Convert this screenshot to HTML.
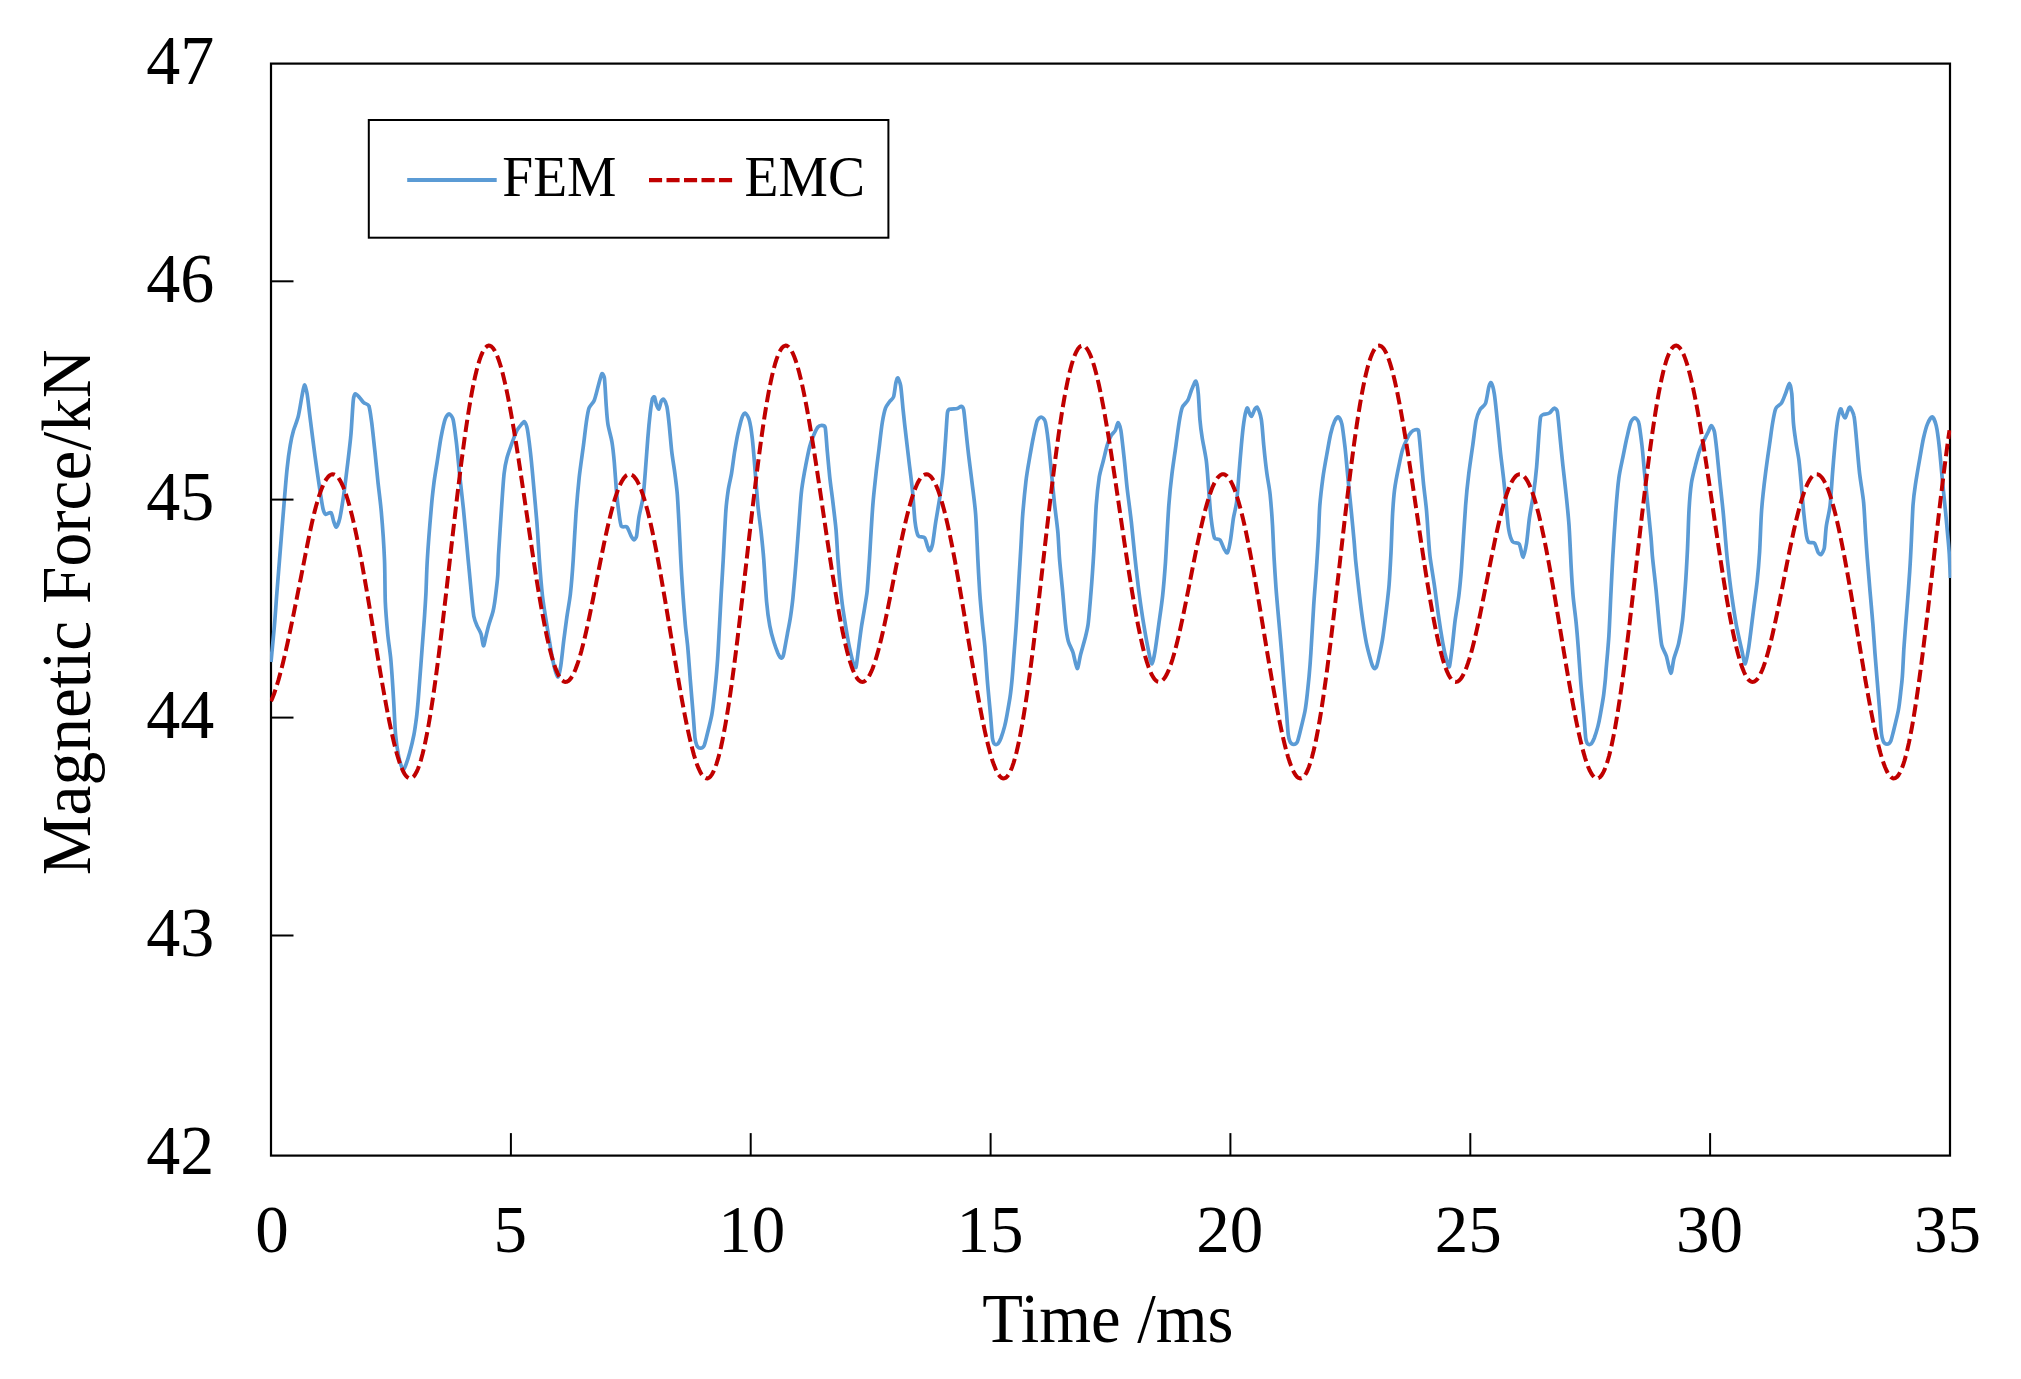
<!DOCTYPE html>
<html lang="en"><head><meta charset="utf-8"><title>Magnetic Force vs Time</title>
<style>html,body{margin:0;padding:0;background:#fff}body{width:2021px;height:1379px;overflow:hidden}</style>
</head><body>
<svg width="2021" height="1379" viewBox="0 0 2021 1379" style="display:block">
<rect x="0" y="0" width="2021" height="1379" fill="#fff"/>
<defs><clipPath id="plot"><rect x="269.9" y="63.6" width="1681.3" height="1092.0"/></clipPath></defs>
<rect x="271.0" y="63.6" width="1679.0" height="1092.0" fill="none" stroke="#000" stroke-width="2.2"/>
<g clip-path="url(#plot)" fill="none" stroke-linejoin="round" stroke-linecap="butt">
<path d="M271.0,662.0C271.5,657.2 273.6,634.9 274.4,625.8C275.2,616.7 276.1,602.7 276.8,593.9C277.5,585.1 278.6,571.3 279.5,560.0C280.4,548.2 282.9,517.7 283.9,505.5C284.9,493.3 286.2,476.9 287.1,468.8C287.9,460.8 289.4,450.0 290.3,444.9C291.1,440.1 292.4,434.3 293.5,430.5C294.6,426.7 297.2,420.7 298.3,416.2C299.4,411.7 301.0,401.2 301.8,397.0C302.6,393.0 303.7,385.4 304.4,385.0C305.1,384.6 306.6,390.8 307.1,393.8C307.9,398.4 309.2,411.1 310.3,419.4C311.4,427.7 313.7,446.6 315.0,456.0C316.3,465.4 318.7,482.6 319.8,489.6C320.8,496.0 322.2,505.4 323.0,508.7C323.5,510.7 324.6,513.8 325.7,514.3C326.8,514.8 329.9,511.7 331.0,512.7C332.1,513.7 333.0,519.6 333.7,521.5C334.4,523.4 335.5,527.4 336.3,527.0C337.1,526.6 339.1,521.3 339.8,518.3C340.8,513.9 342.7,501.8 343.8,494.3C344.9,486.8 346.8,470.5 347.8,462.4C348.8,454.3 350.3,442.0 351.0,433.7C351.7,425.4 352.7,405.5 353.3,400.2C353.5,398.0 354.5,394.1 355.4,393.8C356.3,393.5 358.6,396.6 359.7,397.8C360.8,399.0 362.5,401.5 363.7,402.6C364.9,403.7 368.1,403.9 368.8,405.8C369.9,408.5 370.9,416.9 371.7,422.5C372.5,428.6 374.0,443.2 374.9,451.3C375.8,459.4 377.2,475.1 378.1,483.2C379.0,491.3 380.5,502.3 381.3,511.9C382.2,522.1 384.0,548.0 384.5,560.0C385.0,572.0 384.9,592.1 385.3,601.9C385.7,611.7 387.0,626.1 387.7,633.8C388.4,641.5 390.0,650.8 390.8,659.4C391.6,668.2 393.0,689.9 393.6,700.0C394.2,710.1 394.9,727.3 395.6,734.8C396.2,741.9 397.8,751.8 398.6,756.0C399.2,759.4 400.7,764.2 401.3,766.0C401.8,767.4 402.8,769.9 403.4,769.8C404.0,769.7 405.0,767.0 405.6,765.5C406.5,763.2 408.7,756.3 409.8,752.2C410.9,748.1 413.0,739.4 413.9,734.8C414.8,730.2 415.9,722.0 416.5,717.4C417.1,712.8 417.8,704.8 418.2,700.0C418.6,695.2 419.1,687.8 419.6,681.7C420.1,675.0 421.4,658.3 422.0,649.8C422.6,641.3 423.9,625.4 424.4,617.9C424.9,610.4 425.5,601.6 425.9,593.9C426.3,586.2 426.6,571.3 427.3,560.0C428.0,548.2 430.6,515.7 431.5,505.5C432.1,498.1 433.2,488.9 433.9,483.2C434.6,477.5 436.1,468.6 437.1,462.4C438.1,456.2 440.0,442.6 441.1,436.9C442.2,431.2 444.0,422.5 445.1,419.4C445.9,417.2 448.0,413.8 449.1,413.8C450.2,413.8 452.5,417.2 453.1,419.4C454.1,423.1 455.4,434.5 456.3,441.7C457.2,448.9 458.6,464.7 459.5,473.6C460.4,482.5 462.2,497.2 463.4,508.7C464.6,520.2 467.1,548.6 468.2,560.0C469.3,571.3 470.7,586.4 471.4,593.9C472.1,601.4 473.1,612.0 473.8,616.3C474.4,619.6 476.0,623.5 477.0,625.8C478.0,628.1 480.1,631.1 481.0,633.8C481.9,636.5 482.8,645.4 483.4,645.8C484.0,646.2 485.1,639.9 485.8,637.0C486.5,634.1 488.0,627.7 489.0,624.3C490.0,620.9 492.1,615.1 493.0,611.5C493.9,607.9 494.8,601.9 495.4,597.1C496.0,592.2 497.4,580.4 497.8,574.8C498.2,569.2 498.1,561.6 498.5,555.0C499.0,545.8 501.0,516.4 501.7,505.5C502.4,494.9 503.4,480.0 504.1,473.6C504.7,468.2 506.0,461.5 507.0,457.7C508.0,453.9 510.0,448.5 511.3,444.9C512.6,441.3 515.5,433.3 516.9,430.5C518.1,428.1 520.7,425.3 521.7,424.1C522.5,423.2 523.9,421.2 524.6,421.8C525.3,422.4 526.8,426.4 527.3,428.9C528.1,433.0 529.6,445.2 530.5,452.9C531.4,460.6 532.9,477.3 533.7,486.4C534.5,495.5 536.0,511.7 536.8,521.5C537.6,531.3 538.7,550.1 539.4,560.0C540.1,569.9 541.4,586.5 542.4,595.5C543.4,604.5 545.9,619.3 547.2,627.4C548.5,635.5 550.9,650.5 552.0,656.2C552.9,661.0 554.4,667.7 555.2,670.5C555.9,672.7 557.4,677.5 558.1,676.9C558.8,676.3 560.2,669.5 560.8,665.7C561.6,660.6 563.1,645.4 564.0,638.6C564.9,631.8 566.3,620.7 567.2,614.7C568.1,608.7 569.6,600.9 570.4,593.9C571.2,586.6 572.5,570.7 573.2,560.0C573.9,549.3 575.2,524.4 576.0,513.5C576.8,502.6 578.2,487.1 579.1,478.4C580.0,469.7 582.1,455.6 583.1,448.1C584.1,440.6 585.5,427.8 586.3,422.5C587.0,417.7 587.9,411.2 589.0,408.2C590.1,405.2 593.1,403.2 594.3,400.2C595.5,397.2 597.3,389.3 598.3,385.8C599.3,382.3 601.0,375.0 601.8,373.9C602.6,372.8 604.2,376.3 604.4,377.9C605.0,382.3 605.8,400.4 606.3,406.6C606.7,412.4 607.2,419.4 607.9,424.1C608.6,428.8 611.0,436.6 611.9,441.7C612.8,446.8 613.7,455.6 614.3,462.4C614.9,469.2 616.0,486.0 616.6,492.8C617.2,499.6 618.4,509.0 619.0,513.5C619.6,517.8 620.3,524.5 621.4,526.3C622.4,527.9 625.7,525.8 627.0,527.1C628.3,528.4 630.0,534.1 631.0,535.8C631.8,537.3 633.5,539.8 634.2,539.8C634.9,539.8 636.3,537.3 636.6,535.8C637.2,532.7 638.1,521.8 639.0,516.7C639.9,511.6 642.1,503.7 643.0,497.5C643.9,491.3 644.8,478.3 645.4,470.4C646.0,462.5 647.2,446.2 647.8,438.5C648.4,430.8 649.6,418.3 650.2,413.0C650.8,408.2 651.9,400.7 652.5,398.6C652.7,397.8 654.0,396.3 654.5,397.0C655.0,397.9 655.9,403.4 656.5,405.0C657.0,406.5 658.3,409.5 658.9,409.0C659.5,408.5 660.7,402.3 661.3,401.0C661.7,400.1 663.0,398.7 663.7,399.4C664.4,400.1 666.4,404.0 666.9,406.6C667.6,410.1 668.7,419.7 669.3,425.7C669.9,431.7 671.0,444.9 671.7,451.3C672.4,457.7 674.2,467.9 674.9,473.6C675.6,479.3 676.8,488.0 677.3,494.4C677.8,500.8 678.4,512.8 678.9,521.5C679.4,530.2 680.3,550.3 680.8,560.0C681.3,569.7 682.3,585.3 682.9,593.9C683.5,602.5 684.7,617.3 685.3,624.3C685.9,631.3 687.0,639.2 687.7,646.6C688.4,654.0 689.6,670.9 690.3,680.0C691.0,689.1 692.6,707.1 693.2,714.8C693.8,722.5 694.5,733.9 695.0,738.0C695.3,740.4 696.2,743.9 696.7,745.2C697.0,746.1 698.0,747.2 698.5,747.6C699.0,748.0 700.0,748.2 700.5,748.2C701.0,748.2 702.0,748.0 702.5,747.6C703.0,747.2 703.9,746.1 704.3,745.2C704.8,743.9 705.7,740.4 706.3,738.0C707.3,733.9 710.8,720.2 711.8,714.8C712.8,709.4 713.6,702.0 714.1,697.4C714.6,692.8 715.4,685.1 715.9,680.0C716.4,674.9 717.1,666.3 717.6,659.4C718.1,652.4 718.9,636.1 719.4,627.4C719.9,618.7 720.7,602.9 721.2,593.9C721.7,584.9 722.6,571.1 723.2,560.0C723.8,548.9 725.2,519.7 725.9,510.3C726.4,503.4 727.6,494.5 728.3,489.6C729.0,484.7 730.6,478.7 731.5,473.6C732.4,468.5 733.8,456.6 734.7,451.3C735.6,446.0 736.9,438.2 737.9,433.7C738.9,429.2 740.9,420.6 741.9,417.8C742.5,416.0 744.1,412.8 745.1,413.0C746.1,413.2 748.4,417.0 749.1,419.4C750.1,422.8 751.6,432.3 752.3,438.5C753.0,444.7 754.0,456.7 754.7,465.6C755.4,474.5 757.1,496.8 757.9,505.5C758.7,514.0 760.2,523.7 761.0,531.0C761.8,538.3 763.1,550.5 763.8,560.0C764.5,569.5 765.8,593.1 766.6,601.9C767.3,609.9 768.8,620.5 769.8,625.8C770.8,631.1 772.7,638.2 773.8,641.8C774.9,645.4 777.0,651.0 777.8,653.0C778.4,654.4 779.4,656.3 779.9,657.0C780.3,657.5 781.1,658.2 781.5,658.1C781.9,658.0 782.7,657.3 783.0,656.6C783.4,655.7 783.9,653.1 784.2,651.4C784.8,648.4 786.5,638.5 787.4,633.8C788.3,629.1 789.9,621.2 790.6,616.3C791.3,611.4 792.4,603.5 793.0,597.1C793.7,589.6 795.4,570.5 796.2,560.0C797.0,549.5 798.6,527.7 799.3,518.3C800.0,508.9 800.8,496.6 801.7,489.6C802.6,482.6 804.6,471.3 805.7,465.6C806.8,459.9 808.6,450.5 809.7,446.5C810.7,442.7 812.6,437.9 813.7,435.3C814.8,432.7 816.6,428.6 817.7,427.3C818.6,426.2 820.7,425.4 821.7,425.4C822.7,425.4 824.9,426.0 825.2,427.3C825.9,430.8 826.7,444.7 827.3,451.3C827.9,457.9 829.0,470.0 829.7,476.8C830.4,483.6 832.1,495.3 832.9,502.3C833.7,509.3 835.3,521.8 836.0,529.5C836.7,537.2 837.3,550.8 838.0,560.0C838.7,569.2 840.6,589.9 841.6,598.7C842.6,607.5 844.5,619.2 845.6,625.8C846.7,632.4 848.5,643.1 849.6,648.2C850.7,653.3 852.7,661.6 853.6,664.1C854.0,665.4 855.6,668.6 856.0,667.3C856.6,665.4 857.7,655.3 858.4,649.8C859.1,644.3 860.7,631.5 861.6,625.8C862.5,620.1 864.1,611.4 864.8,606.7C865.5,602.0 866.7,596.1 867.2,590.7C867.8,584.5 868.7,570.2 869.4,560.0C870.1,548.6 871.9,517.0 872.8,505.5C873.6,494.8 875.2,481.3 876.0,473.6C876.8,465.9 878.3,454.9 879.1,448.1C879.9,441.3 881.4,427.8 882.3,422.5C883.1,417.7 884.5,411.0 885.5,408.2C886.3,405.8 888.4,403.3 889.5,401.8C890.6,400.3 892.8,399.0 893.5,397.0C894.4,394.5 895.3,385.2 895.9,382.7C896.3,381.0 897.2,377.5 897.8,377.9C898.4,378.3 900.2,383.0 900.7,385.8C901.4,390.1 902.4,402.8 903.1,409.8C903.8,416.8 905.4,431.1 906.3,438.5C907.2,445.9 908.6,458.4 909.5,465.6C910.4,472.8 912.0,485.3 912.7,492.8C913.4,500.3 914.3,515.8 915.0,521.5C915.6,526.3 916.9,533.6 918.2,535.8C919.3,537.7 923.3,536.3 924.6,537.8C925.9,539.3 927.1,545.3 927.8,547.0C928.3,548.3 929.2,551.1 929.8,550.7C930.4,550.3 932.1,546.2 932.6,543.8C933.4,539.9 934.8,527.7 935.8,521.5C936.8,515.3 938.8,503.9 939.8,497.5C940.8,491.1 942.3,481.0 943.0,473.6C943.7,466.2 944.8,449.8 945.4,441.7C946.0,433.6 946.9,417.3 947.4,413.0C947.6,411.6 948.1,409.9 949.4,409.3C950.7,408.7 955.7,408.9 957.3,408.5C958.8,408.1 960.4,406.1 961.3,406.3C962.2,406.5 963.4,408.4 963.7,409.8C964.3,413.2 965.4,425.3 966.1,432.1C966.8,438.9 968.4,453.6 969.3,460.8C970.2,468.0 971.6,479.2 972.5,486.4C973.4,493.6 975.0,505.5 975.7,515.1C976.4,524.7 977.3,548.0 977.8,558.3C978.3,568.6 979.1,583.4 979.7,592.2C980.3,601.0 981.8,617.0 982.5,624.3C983.2,631.6 984.3,639.5 984.9,646.9C985.5,654.3 986.6,670.9 987.3,680.0C988.0,689.1 989.8,707.1 990.5,714.8C991.2,722.5 992.0,734.2 992.4,738.0C992.6,739.8 993.4,742.3 993.8,743.2C994.0,743.8 994.8,744.2 995.2,744.4C995.6,744.6 996.4,744.6 996.8,744.4C997.2,744.2 998.0,743.8 998.4,743.2C999.0,742.3 1000.3,739.8 1001.0,738.0C1001.8,735.8 1003.8,729.5 1004.6,726.4C1005.4,723.3 1006.3,718.7 1007.0,714.8C1007.7,710.9 1009.3,702.0 1010.0,697.4C1010.7,692.8 1011.5,685.2 1012.0,680.0C1012.5,674.8 1013.2,665.5 1013.7,658.2C1014.3,650.3 1015.8,631.8 1016.5,620.5C1017.2,609.2 1018.7,583.5 1019.3,573.4C1019.9,563.9 1020.5,553.0 1021.0,545.0C1021.5,537.0 1022.1,522.0 1022.8,513.5C1023.5,505.0 1025.1,488.6 1025.9,481.6C1026.7,474.6 1028.1,466.5 1029.1,460.8C1030.1,455.1 1032.0,443.8 1033.1,438.5C1034.2,433.2 1036.0,423.9 1037.1,421.0C1037.8,419.2 1040.0,417.0 1041.1,417.0C1042.2,417.0 1044.6,419.2 1045.1,421.0C1046.1,424.3 1047.5,434.8 1048.3,441.7C1049.2,448.7 1050.6,465.1 1051.5,473.6C1052.4,482.1 1053.8,497.6 1054.7,505.5C1055.6,513.4 1057.3,525.6 1057.9,532.6C1058.5,539.6 1058.9,550.4 1059.5,558.3C1060.1,566.2 1061.9,583.4 1062.7,592.2C1063.5,601.0 1064.8,617.8 1065.5,624.3C1066.1,630.0 1067.3,637.4 1068.3,641.2C1069.3,645.0 1071.8,648.8 1073.0,652.5C1074.2,656.2 1076.2,668.3 1077.2,668.6C1078.2,668.9 1079.5,658.5 1080.6,654.4C1081.7,650.3 1084.3,641.5 1085.3,637.5C1086.3,633.5 1087.5,628.8 1088.1,624.3C1088.9,618.3 1090.2,601.8 1091.0,592.2C1091.8,582.6 1093.1,563.6 1093.8,552.0C1094.5,540.4 1095.5,515.5 1096.2,505.5C1096.9,495.9 1098.4,482.8 1099.3,476.8C1100.2,471.4 1102.2,465.1 1103.3,460.8C1104.4,456.5 1106.2,448.3 1107.3,444.9C1108.3,441.6 1110.2,437.2 1111.3,435.3C1112.3,433.5 1114.4,432.2 1115.3,430.5C1116.2,428.8 1117.3,422.5 1118.0,422.5C1118.7,422.5 1120.4,427.7 1120.9,430.5C1121.7,435.2 1123.2,449.8 1124.1,457.7C1125.0,465.6 1126.3,481.1 1127.3,489.6C1128.3,498.1 1130.3,512.6 1131.3,521.5C1132.3,530.4 1133.8,546.6 1134.8,556.0C1135.8,565.4 1137.8,583.1 1139.0,592.2C1140.2,601.3 1142.4,616.5 1143.7,624.3C1145.0,632.1 1147.4,645.4 1148.5,650.7C1149.4,655.1 1151.0,663.9 1151.9,663.9C1152.8,663.9 1154.3,655.2 1155.1,650.7C1156.0,645.4 1157.8,631.6 1158.8,624.3C1159.8,617.0 1161.7,604.3 1162.6,596.0C1163.5,587.7 1164.7,573.3 1165.5,562.0C1166.3,549.9 1167.9,517.3 1168.8,505.5C1169.6,494.8 1171.0,481.7 1172.0,473.6C1173.0,465.5 1175.1,451.7 1176.0,444.9C1176.9,438.1 1178.3,427.5 1179.1,422.5C1179.9,417.5 1181.1,410.4 1182.3,407.4C1183.4,404.6 1186.6,402.7 1187.9,400.2C1189.2,397.7 1190.8,391.5 1191.9,389.0C1193.0,386.5 1195.0,380.5 1195.9,381.1C1196.8,381.7 1197.9,389.5 1198.3,393.8C1198.8,398.9 1199.4,413.4 1199.9,419.4C1200.4,425.4 1201.4,433.0 1202.3,438.5C1203.2,444.0 1205.4,454.0 1206.3,460.8C1207.2,467.6 1208.1,481.9 1208.7,489.6C1209.3,497.3 1210.3,511.8 1211.1,518.3C1211.9,524.8 1213.3,535.1 1214.5,538.0C1215.2,539.8 1218.7,538.5 1220.0,540.0C1221.3,541.5 1223.1,547.2 1224.1,548.9C1225.0,550.3 1226.6,553.8 1227.5,552.6C1228.4,551.4 1229.8,544.3 1230.5,540.0C1231.3,535.4 1232.6,523.3 1233.4,518.3C1234.2,513.3 1235.9,507.7 1236.6,502.3C1237.3,496.3 1238.4,481.3 1239.0,473.6C1239.6,465.9 1240.8,451.7 1241.4,444.9C1242.0,438.1 1243.1,427.4 1243.8,422.5C1244.5,417.7 1246.3,409.5 1247.0,408.2C1247.7,406.9 1248.8,411.9 1249.4,413.0C1250.0,414.1 1251.0,416.7 1251.7,416.2C1252.4,415.7 1254.2,410.2 1254.9,409.0C1255.4,408.2 1256.8,406.6 1257.3,407.4C1258.2,408.8 1260.6,415.2 1261.3,419.4C1262.2,424.4 1263.0,437.7 1263.7,444.9C1264.4,452.1 1266.0,467.0 1266.9,473.6C1267.8,480.2 1269.4,487.5 1270.1,494.4C1270.8,501.3 1272.0,516.5 1272.5,525.0C1273.0,533.5 1273.6,550.1 1274.1,558.3C1274.6,566.5 1275.3,578.3 1275.9,586.6C1276.5,594.9 1278.0,611.7 1278.8,620.5C1279.6,629.3 1281.0,645.1 1281.6,652.5C1282.2,659.9 1282.9,668.4 1283.5,676.2C1284.1,684.0 1285.8,703.3 1286.4,711.0C1287.0,718.7 1287.7,730.1 1288.2,734.2C1288.5,736.6 1289.4,740.1 1289.9,741.4C1290.2,742.3 1291.2,743.4 1291.7,743.8C1292.2,744.2 1293.2,744.4 1293.7,744.4C1294.2,744.4 1295.2,744.2 1295.7,743.8C1296.2,743.4 1297.1,742.3 1297.5,741.4C1298.0,740.1 1298.9,736.6 1299.5,734.2C1300.5,730.1 1304.0,716.4 1305.0,711.0C1306.0,705.6 1306.8,698.2 1307.3,693.6C1307.8,689.0 1308.6,681.7 1309.1,676.2C1309.6,670.7 1310.4,660.4 1310.9,652.5C1311.5,643.1 1313.0,616.7 1313.7,605.4C1314.4,594.1 1315.9,577.1 1316.5,567.7C1317.1,558.3 1318.1,543.3 1318.5,535.0C1318.9,526.7 1319.2,513.0 1319.8,505.5C1320.4,498.0 1321.9,485.2 1322.8,478.4C1323.7,471.6 1325.7,460.5 1326.8,454.5C1327.9,448.5 1329.6,438.2 1330.7,433.7C1331.7,429.4 1333.7,423.2 1334.7,421.0C1335.5,419.4 1337.4,416.6 1338.4,417.0C1339.4,417.4 1341.3,421.5 1341.9,424.1C1342.8,428.2 1344.2,440.4 1345.1,448.1C1346.0,455.8 1347.4,472.9 1348.3,481.6C1349.2,490.3 1350.7,505.7 1351.5,513.5C1352.3,521.3 1353.4,533.5 1354.0,540.0C1354.6,546.5 1355.1,555.3 1355.8,562.0C1356.5,568.7 1358.0,582.5 1358.9,590.3C1359.8,598.1 1361.7,613.5 1362.7,620.5C1363.7,627.5 1365.3,637.6 1366.4,643.1C1367.5,648.6 1370.3,658.8 1371.2,662.0C1371.7,663.8 1372.7,666.3 1373.2,667.2C1373.6,667.8 1374.4,668.7 1374.9,668.6C1375.4,668.5 1376.3,667.4 1376.6,666.6C1377.1,665.2 1378.1,661.0 1378.7,658.2C1379.5,654.6 1381.5,645.7 1382.5,639.4C1383.5,633.1 1385.3,618.4 1386.2,611.1C1387.1,603.8 1388.5,592.5 1389.1,584.7C1389.7,576.9 1390.5,562.1 1391.0,552.6C1391.5,543.1 1392.1,521.9 1392.6,513.5C1393.1,505.5 1393.8,495.8 1394.6,489.6C1395.4,483.4 1397.5,472.5 1398.6,467.2C1399.7,461.9 1401.3,453.5 1402.5,449.7C1403.7,445.9 1406.1,440.8 1407.3,438.5C1408.4,436.2 1410.2,433.3 1411.3,432.1C1412.3,430.9 1414.3,429.9 1415.3,429.7C1416.3,429.5 1418.3,429.4 1418.5,430.5C1419.2,433.8 1420.3,447.7 1420.9,454.5C1421.5,461.3 1422.6,474.2 1423.3,481.6C1424.0,489.0 1425.8,502.5 1426.5,510.3C1427.2,518.1 1428.1,533.6 1428.6,540.0C1429.1,546.0 1429.4,552.0 1430.2,558.0C1431.0,564.0 1433.2,577.4 1434.3,584.7C1435.4,592.0 1437.0,605.2 1438.1,613.0C1439.2,620.8 1441.7,636.8 1442.8,643.1C1443.8,648.8 1445.7,657.0 1446.6,660.1C1447.2,662.4 1448.7,668.5 1449.4,666.7C1450.1,664.9 1451.4,653.1 1452.2,646.9C1453.0,640.7 1454.2,627.3 1455.1,620.5C1456.0,613.7 1457.9,603.0 1458.8,596.0C1459.7,589.0 1460.8,577.1 1461.5,567.7C1462.4,555.6 1464.6,518.0 1465.6,505.5C1466.4,494.8 1467.8,481.7 1468.8,473.6C1469.8,465.5 1471.8,451.9 1472.8,444.9C1473.8,437.9 1475.1,425.7 1476.0,421.0C1476.8,417.1 1478.6,412.1 1479.9,409.8C1481.2,407.5 1484.5,406.0 1485.5,403.4C1486.7,400.4 1488.0,390.2 1488.7,387.4C1489.2,385.7 1490.4,381.8 1491.1,382.7C1491.8,383.6 1493.7,390.0 1494.3,393.8C1495.2,399.1 1496.6,414.4 1497.5,422.5C1498.4,430.6 1499.8,446.6 1500.7,454.5C1501.6,462.4 1503.2,474.8 1503.9,481.6C1504.6,488.4 1505.7,499.1 1506.3,505.5C1506.9,511.9 1507.8,524.7 1508.7,529.5C1509.4,533.7 1511.3,539.9 1512.7,541.8C1514.0,543.7 1517.9,542.1 1519.2,544.0C1520.6,546.1 1522.2,557.4 1523.2,557.3C1524.2,557.2 1525.8,547.8 1526.6,543.0C1527.4,537.8 1528.5,524.8 1529.4,518.3C1530.3,511.8 1532.4,501.2 1533.4,494.4C1534.4,487.6 1535.9,475.3 1536.6,467.2C1537.3,459.1 1538.5,440.4 1539.0,433.7C1539.4,428.1 1540.1,419.5 1540.6,417.0C1540.8,415.9 1542.0,415.1 1543.0,414.6C1544.2,414.1 1547.9,413.9 1549.4,413.0C1550.9,412.1 1553.0,408.4 1554.1,408.2C1555.2,408.0 1557.0,409.9 1557.3,411.4C1558.0,414.8 1559.0,426.5 1559.7,433.7C1560.4,440.9 1562.0,457.5 1562.9,465.6C1563.8,473.7 1565.3,486.5 1566.1,494.4C1566.9,502.3 1568.3,515.2 1569.0,525.0C1569.7,534.8 1570.7,558.2 1571.2,567.7C1571.7,577.1 1572.5,589.0 1573.1,596.0C1573.7,603.0 1575.2,613.7 1575.9,620.5C1576.6,627.3 1577.6,639.0 1578.2,646.9C1578.8,654.8 1579.9,670.9 1580.6,680.0C1581.3,689.1 1583.1,707.1 1583.8,714.8C1584.5,722.5 1585.3,734.2 1585.7,738.0C1585.9,739.8 1586.7,742.3 1587.1,743.2C1587.3,743.8 1588.1,744.2 1588.5,744.4C1588.9,744.6 1589.7,744.6 1590.1,744.4C1590.5,744.2 1591.3,743.8 1591.7,743.2C1592.3,742.3 1593.6,739.8 1594.3,738.0C1595.1,735.8 1597.1,729.5 1597.9,726.4C1598.7,723.3 1599.6,718.7 1600.3,714.8C1601.0,710.9 1602.6,702.0 1603.3,697.4C1604.0,692.8 1604.9,683.7 1605.3,680.0C1605.7,676.5 1605.8,673.0 1606.1,669.5C1606.6,663.6 1608.3,645.4 1608.9,635.6C1609.5,625.8 1610.3,606.3 1610.8,596.0C1611.3,585.7 1612.1,569.3 1612.7,558.3C1613.3,547.3 1614.8,524.2 1615.6,513.5C1616.4,502.8 1617.8,485.8 1618.8,478.4C1619.7,471.4 1621.7,463.0 1622.8,457.7C1623.9,452.4 1625.6,443.2 1626.7,438.5C1627.8,433.8 1629.6,425.3 1630.7,422.5C1631.4,420.6 1633.6,417.8 1634.7,417.8C1635.8,417.8 1638.2,420.5 1638.7,422.5C1639.7,426.1 1641.0,437.4 1641.9,444.9C1642.8,452.4 1644.2,469.7 1645.1,478.4C1646.0,487.1 1647.5,502.4 1648.3,510.3C1649.1,518.2 1650.4,531.0 1651.0,537.4C1651.6,543.8 1651.9,551.3 1652.6,558.3C1653.3,565.4 1655.3,582.0 1656.1,590.3C1656.9,598.6 1658.2,613.2 1658.9,620.5C1659.6,627.8 1660.7,640.2 1661.7,645.0C1662.5,649.0 1665.2,652.5 1666.4,656.3C1667.6,660.1 1669.8,673.0 1670.8,673.3C1671.8,673.6 1672.9,662.2 1674.0,658.2C1675.1,654.2 1677.6,648.1 1678.7,643.1C1679.8,638.1 1681.6,628.0 1682.5,620.5C1683.4,613.0 1684.6,596.1 1685.3,586.6C1686.0,577.1 1687.0,559.1 1687.5,548.9C1688.0,538.7 1688.5,519.1 1689.0,510.3C1689.5,501.5 1690.5,489.2 1691.4,483.2C1692.3,477.2 1694.3,469.9 1695.4,465.6C1696.5,461.3 1698.1,454.7 1699.3,451.3C1700.5,447.9 1702.9,442.7 1704.1,440.1C1705.3,437.5 1707.1,434.0 1708.1,432.1C1709.1,430.2 1710.4,425.7 1711.3,425.7C1712.2,425.7 1714.0,429.8 1714.5,432.1C1715.2,435.5 1716.2,444.9 1716.9,451.3C1717.6,458.1 1719.2,474.9 1720.1,483.2C1721.0,491.5 1722.6,505.8 1723.3,513.5C1724.0,521.2 1725.1,534.4 1725.6,540.6C1726.1,546.8 1726.7,553.7 1727.4,560.2C1728.2,567.3 1730.3,585.6 1731.5,594.1C1732.7,602.6 1734.8,616.8 1736.2,624.3C1737.6,631.8 1740.7,645.4 1741.9,650.7C1742.9,655.1 1744.3,664.4 1745.2,663.9C1746.1,663.4 1747.9,652.6 1748.8,646.9C1749.9,639.6 1752.5,618.0 1753.6,609.2C1754.7,600.4 1756.4,588.5 1757.2,580.9C1758.0,573.3 1759.0,561.4 1759.6,552.0C1760.2,542.6 1760.8,520.8 1761.6,510.3C1762.4,499.8 1764.4,482.3 1765.5,473.6C1766.6,464.9 1768.5,451.6 1769.5,444.8C1770.5,438.0 1771.8,427.4 1772.7,422.5C1773.5,417.7 1774.7,410.8 1775.9,408.2C1776.9,405.9 1780.2,404.9 1781.5,403.0C1782.8,401.1 1784.4,396.4 1785.5,393.8C1786.6,391.2 1788.6,383.4 1789.4,383.4C1790.2,383.4 1791.4,390.3 1791.8,393.8C1792.3,399.0 1792.9,416.1 1793.4,422.5C1793.9,428.9 1795.1,436.6 1795.8,441.7C1796.5,446.8 1798.3,454.9 1799.0,460.8C1799.7,466.7 1800.8,479.3 1801.4,486.3C1802.0,493.3 1803.1,506.8 1803.8,513.4C1804.5,520.0 1805.8,532.1 1806.5,536.0C1806.9,538.2 1807.7,541.3 1808.8,542.3C1809.9,543.3 1813.2,541.8 1814.5,543.2C1815.8,544.6 1817.3,551.1 1818.2,552.6C1818.8,553.6 1820.3,555.1 1821.1,554.5C1821.9,553.9 1823.9,550.4 1824.3,548.0C1825.0,544.2 1825.5,531.9 1826.3,526.2C1827.1,520.5 1829.3,512.4 1830.1,505.4C1830.9,498.4 1831.9,481.6 1832.5,473.5C1833.1,465.4 1834.3,451.6 1834.9,444.8C1835.5,438.0 1836.6,427.3 1837.3,422.5C1838.0,417.9 1839.8,410.1 1840.5,409.0C1841.2,407.9 1842.3,413.3 1842.9,414.5C1843.5,415.7 1844.7,418.1 1845.3,417.7C1845.9,417.3 1847.1,412.7 1847.7,411.3C1848.3,409.9 1849.2,406.7 1850.0,407.3C1850.8,407.9 1853.4,412.9 1854.0,416.1C1854.9,420.3 1855.7,431.0 1856.4,438.5C1857.1,446.2 1858.6,465.0 1859.6,473.5C1860.6,482.0 1862.8,494.1 1863.6,502.2C1864.4,510.3 1865.1,526.6 1865.6,534.1C1866.1,541.6 1866.7,550.6 1867.3,558.3C1867.9,566.0 1869.4,583.4 1870.1,592.2C1870.8,601.0 1872.3,616.3 1872.9,624.3C1873.5,632.3 1874.4,645.6 1874.9,652.5C1875.4,659.4 1876.2,668.1 1876.8,675.9C1877.4,683.7 1879.1,703.0 1879.7,710.7C1880.3,718.4 1881.0,729.8 1881.5,733.9C1881.8,736.3 1882.7,739.8 1883.2,741.1C1883.5,742.0 1884.5,743.1 1885.0,743.5C1885.5,743.9 1886.5,744.1 1887.0,744.1C1887.5,744.1 1888.5,743.9 1889.0,743.5C1889.5,743.1 1890.4,742.0 1890.8,741.1C1891.3,739.8 1892.2,736.3 1892.8,733.9C1893.8,729.8 1897.3,716.1 1898.3,710.7C1899.3,705.3 1900.1,697.9 1900.6,693.3C1901.1,688.7 1902.0,681.7 1902.4,675.9C1902.9,669.7 1903.4,655.8 1904.0,646.9C1904.6,638.0 1906.1,619.3 1906.9,609.2C1907.7,599.1 1909.1,580.7 1909.7,571.5C1910.3,562.3 1911.0,548.8 1911.4,540.0C1911.8,531.2 1912.5,512.8 1913.0,505.4C1913.5,498.5 1914.5,490.6 1915.4,484.7C1916.3,478.8 1918.3,467.0 1919.4,460.8C1920.5,454.6 1922.3,443.4 1923.4,438.5C1924.5,433.6 1926.2,427.0 1927.4,424.1C1928.5,421.4 1931.0,416.7 1932.2,416.9C1933.4,417.1 1935.5,422.6 1936.2,425.7C1937.2,429.8 1938.6,440.6 1939.4,448.0C1940.2,455.4 1941.7,472.8 1942.5,481.5C1943.3,490.2 1945.0,506.0 1945.7,513.4C1946.4,520.8 1947.4,531.8 1947.9,537.3C1948.4,542.8 1949.0,549.1 1949.3,554.5C1949.6,559.9 1950.3,574.9 1950.4,578.0" stroke="#5b9bd5" stroke-width="3.7"/>
<path d="M271.0,701.3 L272.5,697.9 L274.0,694.0 L275.5,689.6 L277.0,684.9 L278.5,679.9 L280.0,674.4 L281.5,668.7 L283.0,662.7 L284.5,656.4 L286.0,649.9 L287.5,643.2 L289.0,636.2 L290.5,629.2 L292.0,621.9 L293.5,614.6 L295.0,607.2 L296.5,599.7 L298.0,592.2 L299.5,584.6 L301.0,577.1 L302.5,569.5 L304.0,561.8 L305.5,554.1 L307.0,546.5 L308.5,539.0 L310.0,531.8 L311.5,524.8 L313.0,518.2 L314.5,512.0 L316.0,506.3 L317.5,501.1 L319.0,496.2 L320.5,491.8 L322.0,487.9 L323.5,484.4 L325.0,481.4 L326.5,478.9 L328.0,477.0 L329.5,475.5 L331.0,474.6 L332.5,474.2 L334.0,474.4 L335.5,475.1 L337.0,476.3 L338.5,478.0 L340.0,480.3 L341.5,483.1 L343.0,486.3 L344.5,490.1 L346.0,494.3 L347.5,499.0 L349.0,504.1 L350.5,509.7 L352.0,515.6 L353.5,521.9 L355.0,528.6 L356.5,535.7 L358.0,543.0 L359.5,550.7 L361.0,558.6 L362.5,566.7 L364.0,575.1 L365.5,583.6 L367.0,592.3 L368.5,601.2 L370.0,610.1 L371.5,619.2 L373.0,628.3 L374.5,637.3 L376.0,646.4 L377.5,655.5 L379.0,664.4 L380.5,673.3 L382.0,682.0 L383.5,690.5 L385.0,698.9 L386.5,707.0 L388.0,714.8 L389.5,722.3 L391.0,729.5 L392.5,736.3 L394.0,742.7 L395.5,748.7 L397.0,754.2 L398.5,759.2 L400.0,763.7 L401.5,767.6 L403.0,771.0 L404.5,773.8 L406.0,775.9 L407.5,777.4 L409.0,778.3 L410.5,778.4 L412.0,777.9 L413.5,776.7 L415.0,774.7 L416.5,772.1 L418.0,768.7 L419.5,764.6 L421.0,759.8 L422.5,754.3 L424.0,748.1 L425.5,741.2 L427.0,733.6 L428.5,725.5 L430.0,716.7 L431.5,707.3 L433.0,697.4 L434.5,686.9 L436.0,676.0 L437.5,664.6 L439.0,652.9 L440.5,640.8 L442.0,628.3 L443.5,615.6 L445.0,602.7 L446.5,589.7 L448.0,576.5 L449.5,563.2 L451.0,550.0 L452.5,536.8 L454.0,523.7 L455.5,510.8 L457.0,498.0 L458.5,485.5 L460.0,473.4 L461.5,461.5 L463.0,450.1 L464.5,439.0 L466.0,428.5 L467.5,418.5 L469.0,409.0 L470.5,400.1 L472.0,391.7 L473.5,384.1 L475.0,377.0 L476.5,370.7 L478.0,365.1 L479.5,360.1 L481.0,355.9 L482.5,352.4 L484.0,349.6 L485.5,347.6 L487.0,346.2 L488.5,345.6 L490.0,345.8 L491.5,346.6 L493.0,348.1 L494.5,350.3 L496.0,353.2 L497.5,356.7 L499.0,360.8 L500.5,365.5 L502.0,370.8 L503.5,376.7 L505.0,383.1 L506.5,389.9 L508.0,397.2 L509.5,405.0 L511.0,413.2 L512.5,421.7 L514.0,430.5 L515.5,439.7 L517.0,449.1 L518.5,458.7 L520.0,468.6 L521.5,478.6 L523.0,488.7 L524.5,498.8 L526.0,509.1 L527.5,519.3 L529.0,529.5 L530.5,539.7 L532.0,549.7 L533.5,559.6 L535.0,569.4 L536.5,578.9 L538.0,588.2 L539.5,597.2 L541.0,605.9 L542.5,614.2 L544.0,622.2 L545.5,629.8 L547.0,637.0 L548.5,643.7 L550.0,649.9 L551.5,655.6 L553.0,660.8 L554.5,665.5 L556.0,669.6 L557.5,673.1 L559.0,676.1 L560.5,678.4 L562.0,680.2 L563.5,681.3 L565.0,681.9 L566.5,681.8 L568.0,681.2 L569.5,679.9 L571.0,678.1 L572.5,675.7 L574.0,672.8 L575.5,669.3 L577.0,665.3 L578.5,660.9 L580.0,655.9 L581.5,650.6 L583.0,644.8 L584.5,638.7 L586.0,632.3 L587.5,625.5 L589.0,618.6 L590.5,611.3 L592.0,604.0 L593.5,596.5 L595.0,588.9 L596.5,581.2 L598.0,573.6 L599.5,565.9 L601.0,558.4 L602.5,551.0 L604.0,543.7 L605.5,536.6 L607.0,529.8 L608.5,523.2 L610.0,516.9 L611.5,511.0 L613.0,505.4 L614.5,500.2 L616.0,495.5 L617.5,491.1 L619.0,487.3 L620.5,483.9 L622.0,481.0 L623.5,478.6 L625.0,476.7 L626.5,475.3 L628.0,474.5 L629.5,474.2 L631.0,474.5 L632.5,475.2 L634.0,476.5 L635.5,478.4 L637.0,480.7 L638.5,483.6 L640.0,486.9 L641.5,490.8 L643.0,495.1 L644.5,499.8 L646.0,505.0 L647.5,510.6 L649.0,516.6 L650.5,523.0 L652.0,529.8 L653.5,536.9 L655.0,544.3 L656.5,552.0 L658.0,559.9 L659.5,568.1 L661.0,576.5 L662.5,585.1 L664.0,593.8 L665.5,602.7 L667.0,611.6 L668.5,620.7 L670.0,629.8 L671.5,638.9 L673.0,647.9 L674.5,657.0 L676.0,665.9 L677.5,674.7 L679.0,683.4 L680.5,691.9 L682.0,700.2 L683.5,708.3 L685.0,716.1 L686.5,723.5 L688.0,730.6 L689.5,737.4 L691.0,743.7 L692.5,749.6 L694.0,755.1 L695.5,760.0 L697.0,764.4 L698.5,768.2 L700.0,771.5 L701.5,774.2 L703.0,776.2 L704.5,777.6 L706.0,778.3 L707.5,778.4 L709.0,777.7 L710.5,776.4 L712.0,774.3 L713.5,771.5 L715.0,768.0 L716.5,763.8 L718.0,758.9 L719.5,753.3 L721.0,747.0 L722.5,740.0 L724.0,732.3 L725.5,724.0 L727.0,715.2 L728.5,705.7 L730.0,695.7 L731.5,685.2 L733.0,674.1 L734.5,662.7 L736.0,650.9 L737.5,638.7 L739.0,626.2 L740.5,613.5 L742.0,600.6 L743.5,587.5 L745.0,574.3 L746.5,561.0 L748.0,547.8 L749.5,534.6 L751.0,521.5 L752.5,508.6 L754.0,495.9 L755.5,483.5 L757.0,471.4 L758.5,459.6 L760.0,448.2 L761.5,437.2 L763.0,426.8 L764.5,416.8 L766.0,407.4 L767.5,398.6 L769.0,390.4 L770.5,382.9 L772.0,375.9 L773.5,369.7 L775.0,364.2 L776.5,359.4 L778.0,355.2 L779.5,351.9 L781.0,349.2 L782.5,347.3 L784.0,346.1 L785.5,345.6 L787.0,345.8 L788.5,346.8 L790.0,348.4 L791.5,350.7 L793.0,353.7 L794.5,357.3 L796.0,361.5 L797.5,366.4 L799.0,371.8 L800.5,377.7 L802.0,384.2 L803.5,391.1 L805.0,398.5 L806.5,406.3 L808.0,414.5 L809.5,423.1 L811.0,432.0 L812.5,441.2 L814.0,450.7 L815.5,460.4 L817.0,470.2 L818.5,480.2 L820.0,490.4 L821.5,500.5 L823.0,510.8 L824.5,521.0 L826.0,531.2 L827.5,541.4 L829.0,551.4 L830.5,561.3 L832.0,571.0 L833.5,580.4 L835.0,589.7 L836.5,598.6 L838.0,607.3 L839.5,615.6 L841.0,623.5 L842.5,631.0 L844.0,638.1 L845.5,644.7 L847.0,650.9 L848.5,656.5 L850.0,661.6 L851.5,666.2 L853.0,670.2 L854.5,673.7 L856.0,676.5 L857.5,678.8 L859.0,680.4 L860.5,681.5 L862.0,681.9 L863.5,681.8 L865.0,681.0 L866.5,679.7 L868.0,677.8 L869.5,675.3 L871.0,672.2 L872.5,668.7 L874.0,664.6 L875.5,660.1 L877.0,655.1 L878.5,649.7 L880.0,643.8 L881.5,637.7 L883.0,631.2 L884.5,624.4 L886.0,617.4 L887.5,610.1 L889.0,602.7 L890.5,595.2 L892.0,587.6 L893.5,579.9 L895.0,572.3 L896.5,564.7 L898.0,557.1 L899.5,549.7 L901.0,542.5 L902.5,535.5 L904.0,528.7 L905.5,522.1 L907.0,515.9 L908.5,510.0 L910.0,504.5 L911.5,499.4 L913.0,494.7 L914.5,490.4 L916.0,486.7 L917.5,483.3 L919.0,480.5 L920.5,478.2 L922.0,476.4 L923.5,475.2 L925.0,474.4 L926.5,474.2 L928.0,474.5 L929.5,475.4 L931.0,476.8 L932.5,478.7 L934.0,481.2 L935.5,484.1 L937.0,487.5 L938.5,491.4 L940.0,495.8 L941.5,500.7 L943.0,505.9 L944.5,511.6 L946.0,517.7 L947.5,524.1 L949.0,530.9 L950.5,538.1 L952.0,545.5 L953.5,553.3 L955.0,561.2 L956.5,569.5 L958.0,577.9 L959.5,586.5 L961.0,595.3 L962.5,604.2 L964.0,613.1 L965.5,622.2 L967.0,631.3 L968.5,640.4 L970.0,649.4 L971.5,658.5 L973.0,667.4 L974.5,676.2 L976.0,684.9 L977.5,693.3 L979.0,701.6 L980.5,709.6 L982.0,717.3 L983.5,724.7 L985.0,731.8 L986.5,738.5 L988.0,744.7 L989.5,750.6 L991.0,755.9 L992.5,760.8 L994.0,765.1 L995.5,768.8 L997.0,772.0 L998.5,774.6 L1000.0,776.5 L1001.5,777.8 L1003.0,778.4 L1004.5,778.3 L1006.0,777.6 L1007.5,776.1 L1009.0,773.9 L1010.5,771.0 L1012.0,767.4 L1013.5,763.1 L1015.0,758.0 L1016.5,752.3 L1018.0,745.8 L1019.5,738.7 L1021.0,731.0 L1022.5,722.6 L1024.0,713.6 L1025.5,704.1 L1027.0,694.0 L1028.5,683.3 L1030.0,672.3 L1031.5,660.8 L1033.0,648.9 L1034.5,636.6 L1036.0,624.1 L1037.5,611.3 L1039.0,598.4 L1040.5,585.3 L1042.0,572.1 L1043.5,558.8 L1045.0,545.6 L1046.5,532.4 L1048.0,519.4 L1049.5,506.5 L1051.0,493.8 L1052.5,481.4 L1054.0,469.4 L1055.5,457.7 L1057.0,446.3 L1058.5,435.5 L1060.0,425.1 L1061.5,415.2 L1063.0,405.9 L1064.5,397.2 L1066.0,389.1 L1067.5,381.7 L1069.0,374.9 L1070.5,368.7 L1072.0,363.3 L1073.5,358.6 L1075.0,354.6 L1076.5,351.4 L1078.0,348.8 L1079.5,347.0 L1081.0,346.0 L1082.5,345.6 L1084.0,346.0 L1085.5,347.0 L1087.0,348.8 L1088.5,351.2 L1090.0,354.3 L1091.5,358.0 L1093.0,362.3 L1094.5,367.2 L1096.0,372.7 L1097.5,378.7 L1099.0,385.3 L1100.5,392.3 L1102.0,399.8 L1103.5,407.7 L1105.0,416.0 L1106.5,424.6 L1108.0,433.5 L1109.5,442.8 L1111.0,452.3 L1112.5,462.0 L1114.0,471.9 L1115.5,481.9 L1117.0,492.0 L1118.5,502.3 L1120.0,512.5 L1121.5,522.7 L1123.0,532.9 L1124.5,543.0 L1126.0,553.0 L1127.5,562.9 L1129.0,572.6 L1130.5,582.0 L1132.0,591.2 L1133.5,600.1 L1135.0,608.7 L1136.5,616.9 L1138.0,624.8 L1139.5,632.2 L1141.0,639.2 L1142.5,645.8 L1144.0,651.9 L1145.5,657.4 L1147.0,662.4 L1148.5,666.9 L1150.0,670.8 L1151.5,674.2 L1153.0,676.9 L1154.5,679.1 L1156.0,680.6 L1157.5,681.6 L1159.0,681.9 L1160.5,681.7 L1162.0,680.8 L1163.5,679.4 L1165.0,677.4 L1166.5,674.8 L1168.0,671.7 L1169.5,668.0 L1171.0,663.9 L1172.5,659.3 L1174.0,654.2 L1175.5,648.7 L1177.0,642.8 L1178.5,636.6 L1180.0,630.1 L1181.5,623.2 L1183.0,616.2 L1184.5,608.9 L1186.0,601.5 L1187.5,593.9 L1189.0,586.3 L1190.5,578.7 L1192.0,571.0 L1193.5,563.4 L1195.0,555.9 L1196.5,548.5 L1198.0,541.3 L1199.5,534.3 L1201.0,527.6 L1202.5,521.1 L1204.0,514.9 L1205.5,509.1 L1207.0,503.6 L1208.5,498.6 L1210.0,494.0 L1211.5,489.8 L1213.0,486.1 L1214.5,482.8 L1216.0,480.1 L1217.5,477.9 L1219.0,476.2 L1220.5,475.0 L1222.0,474.3 L1223.5,474.2 L1225.0,474.7 L1226.5,475.6 L1228.0,477.1 L1229.5,479.1 L1231.0,481.6 L1232.5,484.6 L1234.0,488.1 L1235.5,492.1 L1237.0,496.6 L1238.5,501.5 L1240.0,506.8 L1241.5,512.6 L1243.0,518.7 L1244.5,525.2 L1246.0,532.1 L1247.5,539.3 L1249.0,546.8 L1250.5,554.6 L1252.0,562.6 L1253.5,570.9 L1255.0,579.3 L1256.5,588.0 L1258.0,596.7 L1259.5,605.7 L1261.0,614.7 L1262.5,623.7 L1264.0,632.8 L1265.5,641.9 L1267.0,651.0 L1268.5,660.0 L1270.0,668.9 L1271.5,677.7 L1273.0,686.3 L1274.5,694.7 L1276.0,702.9 L1277.5,710.9 L1279.0,718.6 L1280.5,725.9 L1282.0,732.9 L1283.5,739.5 L1285.0,745.7 L1286.5,751.5 L1288.0,756.8 L1289.5,761.5 L1291.0,765.7 L1292.5,769.4 L1294.0,772.5 L1295.5,774.9 L1297.0,776.8 L1298.5,777.9 L1300.0,778.4 L1301.5,778.2 L1303.0,777.4 L1304.5,775.8 L1306.0,773.5 L1307.5,770.5 L1309.0,766.7 L1310.5,762.3 L1312.0,757.1 L1313.5,751.2 L1315.0,744.7 L1316.5,737.5 L1318.0,729.6 L1319.5,721.1 L1321.0,712.1 L1322.5,702.4 L1324.0,692.2 L1325.5,681.5 L1327.0,670.4 L1328.5,658.8 L1330.0,646.9 L1331.5,634.6 L1333.0,622.0 L1334.5,609.2 L1336.0,596.2 L1337.5,583.1 L1339.0,569.9 L1340.5,556.6 L1342.0,543.4 L1343.5,530.2 L1345.0,517.2 L1346.5,504.4 L1348.0,491.8 L1349.5,479.4 L1351.0,467.4 L1352.5,455.7 L1354.0,444.5 L1355.5,433.7 L1357.0,423.4 L1358.5,413.6 L1360.0,404.4 L1361.5,395.8 L1363.0,387.8 L1364.5,380.5 L1366.0,373.8 L1367.5,367.8 L1369.0,362.5 L1370.5,357.9 L1372.0,354.0 L1373.5,350.9 L1375.0,348.5 L1376.5,346.8 L1378.0,345.8 L1379.5,345.6 L1381.0,346.1 L1382.5,347.3 L1384.0,349.1 L1385.5,351.7 L1387.0,354.8 L1388.5,358.7 L1390.0,363.1 L1391.5,368.1 L1393.0,373.7 L1394.5,379.8 L1396.0,386.4 L1397.5,393.5 L1399.0,401.1 L1400.5,409.0 L1402.0,417.4 L1403.5,426.1 L1405.0,435.1 L1406.5,444.4 L1408.0,453.9 L1409.5,463.6 L1411.0,473.5 L1412.5,483.6 L1414.0,493.7 L1415.5,504.0 L1417.0,514.2 L1418.5,524.4 L1420.0,534.6 L1421.5,544.7 L1423.0,554.7 L1424.5,564.5 L1426.0,574.1 L1427.5,583.6 L1429.0,592.7 L1430.5,601.6 L1432.0,610.1 L1433.5,618.3 L1435.0,626.1 L1436.5,633.4 L1438.0,640.4 L1439.5,646.8 L1441.0,652.8 L1442.5,658.3 L1444.0,663.2 L1445.5,667.6 L1447.0,671.4 L1448.5,674.7 L1450.0,677.3 L1451.5,679.4 L1453.0,680.8 L1454.5,681.7 L1456.0,681.9 L1457.5,681.6 L1459.0,680.6 L1460.5,679.1 L1462.0,677.0 L1463.5,674.3 L1465.0,671.1 L1466.5,667.4 L1468.0,663.2 L1469.5,658.5 L1471.0,653.3 L1472.5,647.8 L1474.0,641.8 L1475.5,635.5 L1477.0,628.9 L1478.5,622.1 L1480.0,615.0 L1481.5,607.7 L1483.0,600.2 L1484.5,592.7 L1486.0,585.0 L1487.5,577.4 L1489.0,569.7 L1490.5,562.2 L1492.0,554.7 L1493.5,547.3 L1495.0,540.1 L1496.5,533.2 L1498.0,526.5 L1499.5,520.0 L1501.0,513.9 L1502.5,508.2 L1504.0,502.8 L1505.5,497.8 L1507.0,493.2 L1508.5,489.1 L1510.0,485.5 L1511.5,482.3 L1513.0,479.7 L1514.5,477.6 L1516.0,475.9 L1517.5,474.8 L1519.0,474.3 L1520.5,474.3 L1522.0,474.8 L1523.5,475.8 L1525.0,477.4 L1526.5,479.5 L1528.0,482.1 L1529.5,485.2 L1531.0,488.8 L1532.5,492.9 L1534.0,497.4 L1535.5,502.4 L1537.0,507.8 L1538.5,513.6 L1540.0,519.8 L1541.5,526.4 L1543.0,533.3 L1544.5,540.5 L1546.0,548.1 L1547.5,555.9 L1549.0,564.0 L1550.5,572.3 L1552.0,580.8 L1553.5,589.4 L1555.0,598.2 L1556.5,607.1 L1558.0,616.2 L1559.5,625.2 L1561.0,634.3 L1562.5,643.4 L1564.0,652.5 L1565.5,661.5 L1567.0,670.3 L1568.5,679.1 L1570.0,687.7 L1571.5,696.1 L1573.0,704.3 L1574.5,712.2 L1576.0,719.8 L1577.5,727.1 L1579.0,734.1 L1580.5,740.6 L1582.0,746.7 L1583.5,752.4 L1585.0,757.6 L1586.5,762.3 L1588.0,766.4 L1589.5,770.0 L1591.0,772.9 L1592.5,775.3 L1594.0,777.0 L1595.5,778.1 L1597.0,778.4 L1598.5,778.1 L1600.0,777.1 L1601.5,775.4 L1603.0,773.0 L1604.5,769.9 L1606.0,766.0 L1607.5,761.5 L1609.0,756.2 L1610.5,750.2 L1612.0,743.5 L1613.5,736.2 L1615.0,728.3 L1616.5,719.7 L1618.0,710.5 L1619.5,700.8 L1621.0,690.5 L1622.5,679.7 L1624.0,668.5 L1625.5,656.8 L1627.0,644.8 L1628.5,632.5 L1630.0,619.9 L1631.5,607.0 L1633.0,594.0 L1634.5,580.9 L1636.0,567.7 L1637.5,554.4 L1639.0,541.2 L1640.5,528.1 L1642.0,515.1 L1643.5,502.3 L1645.0,489.7 L1646.5,477.4 L1648.0,465.4 L1649.5,453.8 L1651.0,442.7 L1652.5,432.0 L1654.0,421.7 L1655.5,412.1 L1657.0,403.0 L1658.5,394.4 L1660.0,386.6 L1661.5,379.3 L1663.0,372.7 L1664.5,366.9 L1666.0,361.7 L1667.5,357.2 L1669.0,353.5 L1670.5,350.4 L1672.0,348.2 L1673.5,346.6 L1675.0,345.8 L1676.5,345.6 L1678.0,346.2 L1679.5,347.5 L1681.0,349.5 L1682.5,352.1 L1684.0,355.4 L1685.5,359.4 L1687.0,363.9 L1688.5,369.0 L1690.0,374.7 L1691.5,380.9 L1693.0,387.6 L1694.5,394.8 L1696.0,402.4 L1697.5,410.4 L1699.0,418.8 L1700.5,427.5 L1702.0,436.6 L1703.5,445.9 L1705.0,455.5 L1706.5,465.3 L1708.0,475.2 L1709.5,485.3 L1711.0,495.4 L1712.5,505.7 L1714.0,515.9 L1715.5,526.1 L1717.0,536.3 L1718.5,546.4 L1720.0,556.3 L1721.5,566.1 L1723.0,575.7 L1724.5,585.1 L1726.0,594.2 L1727.5,603.0 L1729.0,611.5 L1730.5,619.6 L1732.0,627.3 L1733.5,634.6 L1735.0,641.5 L1736.5,647.9 L1738.0,653.8 L1739.5,659.1 L1741.0,664.0 L1742.5,668.3 L1744.0,672.0 L1745.5,675.2 L1747.0,677.7 L1748.5,679.7 L1750.0,681.0 L1751.5,681.8 L1753.0,681.9 L1754.5,681.5 L1756.0,680.4 L1757.5,678.8 L1759.0,676.6 L1760.5,673.8 L1762.0,670.5 L1763.5,666.7 L1765.0,662.4 L1766.5,657.6 L1768.0,652.4 L1769.5,646.8 L1771.0,640.8 L1772.5,634.5 L1774.0,627.8 L1775.5,620.9 L1777.0,613.8 L1778.5,606.4 L1780.0,599.0 L1781.5,591.4 L1783.0,583.8 L1784.5,576.1 L1786.0,568.5 L1787.5,560.9 L1789.0,553.4 L1790.5,546.1 L1792.0,539.0 L1793.5,532.0 L1795.0,525.4 L1796.5,519.0 L1798.0,512.9 L1799.5,507.2 L1801.0,501.9 L1802.5,497.0 L1804.0,492.5 L1805.5,488.5 L1807.0,484.9 L1808.5,481.9 L1810.0,479.3 L1811.5,477.2 L1813.0,475.7 L1814.5,474.7 L1816.0,474.2 L1817.5,474.3 L1819.0,474.9 L1820.5,476.0 L1822.0,477.7 L1823.5,479.9 L1825.0,482.6 L1826.5,485.8 L1828.0,489.4 L1829.5,493.6 L1831.0,498.2 L1832.5,503.2 L1834.0,508.7 L1835.5,514.6 L1837.0,520.9 L1838.5,527.5 L1840.0,534.5 L1841.5,541.8 L1843.0,549.4 L1844.5,557.2 L1846.0,565.3 L1847.5,573.7 L1849.0,582.2 L1850.5,590.9 L1852.0,599.7 L1853.5,608.6 L1855.0,617.7 L1856.5,626.7 L1858.0,635.8 L1859.5,644.9 L1861.0,654.0 L1862.5,662.9 L1864.0,671.8 L1865.5,680.6 L1867.0,689.1 L1868.5,697.5 L1870.0,705.6 L1871.5,713.5 L1873.0,721.1 L1874.5,728.3 L1876.0,735.2 L1877.5,741.7 L1879.0,747.7 L1880.5,753.3 L1882.0,758.4 L1883.5,763.0 L1885.0,767.0 L1886.5,770.5 L1888.0,773.4 L1889.5,775.6 L1891.0,777.2 L1892.5,778.2 L1894.0,778.4 L1895.5,778.0 L1897.0,776.9 L1898.5,775.1 L1900.0,772.5 L1901.5,769.3 L1903.0,765.3 L1904.5,760.6 L1906.0,755.2 L1907.5,749.1 L1909.0,742.4 L1910.5,734.9 L1912.0,726.9 L1913.5,718.2 L1915.0,708.9 L1916.5,699.1 L1918.0,688.7 L1919.5,677.9 L1921.0,666.6 L1922.5,654.9 L1924.0,642.8 L1925.5,630.4 L1927.0,617.8 L1928.5,604.9 L1930.0,591.8 L1931.5,578.7 L1933.0,565.4 L1934.5,552.2 L1936.0,539.0 L1937.5,525.9 L1939.0,512.9 L1940.5,500.1 L1942.0,487.6 L1943.5,475.4 L1945.0,463.5 L1946.5,451.9 L1948.0,440.8 L1949.5,430.2" stroke="#c00000" stroke-width="4.0" stroke-dasharray="12.5 5"/>
</g>
<g stroke="#000" stroke-width="2">
<line x1="271.0" y1="281.3" x2="293.5" y2="281.3"/>
<line x1="271.0" y1="499.6" x2="293.5" y2="499.6"/>
<line x1="271.0" y1="717.6" x2="293.5" y2="717.6"/>
<line x1="271.0" y1="935.5" x2="293.5" y2="935.5"/>
<line x1="510.9" y1="1155.6" x2="510.9" y2="1133.1"/>
<line x1="750.7" y1="1155.6" x2="750.7" y2="1133.1"/>
<line x1="990.6" y1="1155.6" x2="990.6" y2="1133.1"/>
<line x1="1230.4" y1="1155.6" x2="1230.4" y2="1133.1"/>
<line x1="1470.3" y1="1155.6" x2="1470.3" y2="1133.1"/>
<line x1="1710.1" y1="1155.6" x2="1710.1" y2="1133.1"/>
</g>
<g font-family="'Liberation Serif', 'Times New Roman', serif" font-size="66.67" fill="#000">
<text transform="translate(214.3,83.8) scale(1,1.02)" text-anchor="end" font-size="68">47</text>
<text transform="translate(214.3,301.8) scale(1,1.02)" text-anchor="end" font-size="68">46</text>
<text transform="translate(214.3,519.8) scale(1,1.02)" text-anchor="end" font-size="68">45</text>
<text transform="translate(214.3,737.8) scale(1,1.02)" text-anchor="end" font-size="68">44</text>
<text transform="translate(214.3,955.8) scale(1,1.02)" text-anchor="end" font-size="68">43</text>
<text transform="translate(214.3,1173.8) scale(1,1.02)" text-anchor="end" font-size="68">42</text>
<text x="272.0" y="1252" text-anchor="middle" font-size="67">0</text>
<text x="510.3" y="1252" text-anchor="middle" font-size="67">5</text>
<text x="751.7" y="1252" text-anchor="middle" font-size="67">10</text>
<text x="989.9" y="1252" text-anchor="middle" font-size="67">15</text>
<text x="1229.7" y="1252" text-anchor="middle" font-size="67">20</text>
<text x="1468.3" y="1252" text-anchor="middle" font-size="67">25</text>
<text x="1709.6" y="1252" text-anchor="middle" font-size="67">30</text>
<text x="1947.4" y="1252" text-anchor="middle" font-size="67">35</text>
<text transform="translate(1107.9,1342) scale(1,1.035)" text-anchor="middle">Time /ms</text>
<text transform="translate(90.2,612.4) rotate(-90) scale(1,1.05)" text-anchor="middle" font-size="67.4">Magnetic Force/kN</text>
</g>
<rect x="368.8" y="120" width="519.6" height="117.7" fill="#fff" stroke="#000" stroke-width="2"/>
<line x1="407.2" y1="180.1" x2="496.7" y2="180.1" stroke="#5b9bd5" stroke-width="4"/>
<line x1="649" y1="180.2" x2="732.2" y2="180.2" stroke="#c00000" stroke-width="4.3" stroke-dasharray="13.1 4.4"/>
<g font-family="'Liberation Serif', 'Times New Roman', serif" font-size="55.56" fill="#000">
<text transform="translate(502.3,195.8) scale(1,1.03)">FEM</text>
<text transform="translate(744.6,195.8) scale(1,1.03)">EMC</text>
</g>
</svg>
</body></html>
